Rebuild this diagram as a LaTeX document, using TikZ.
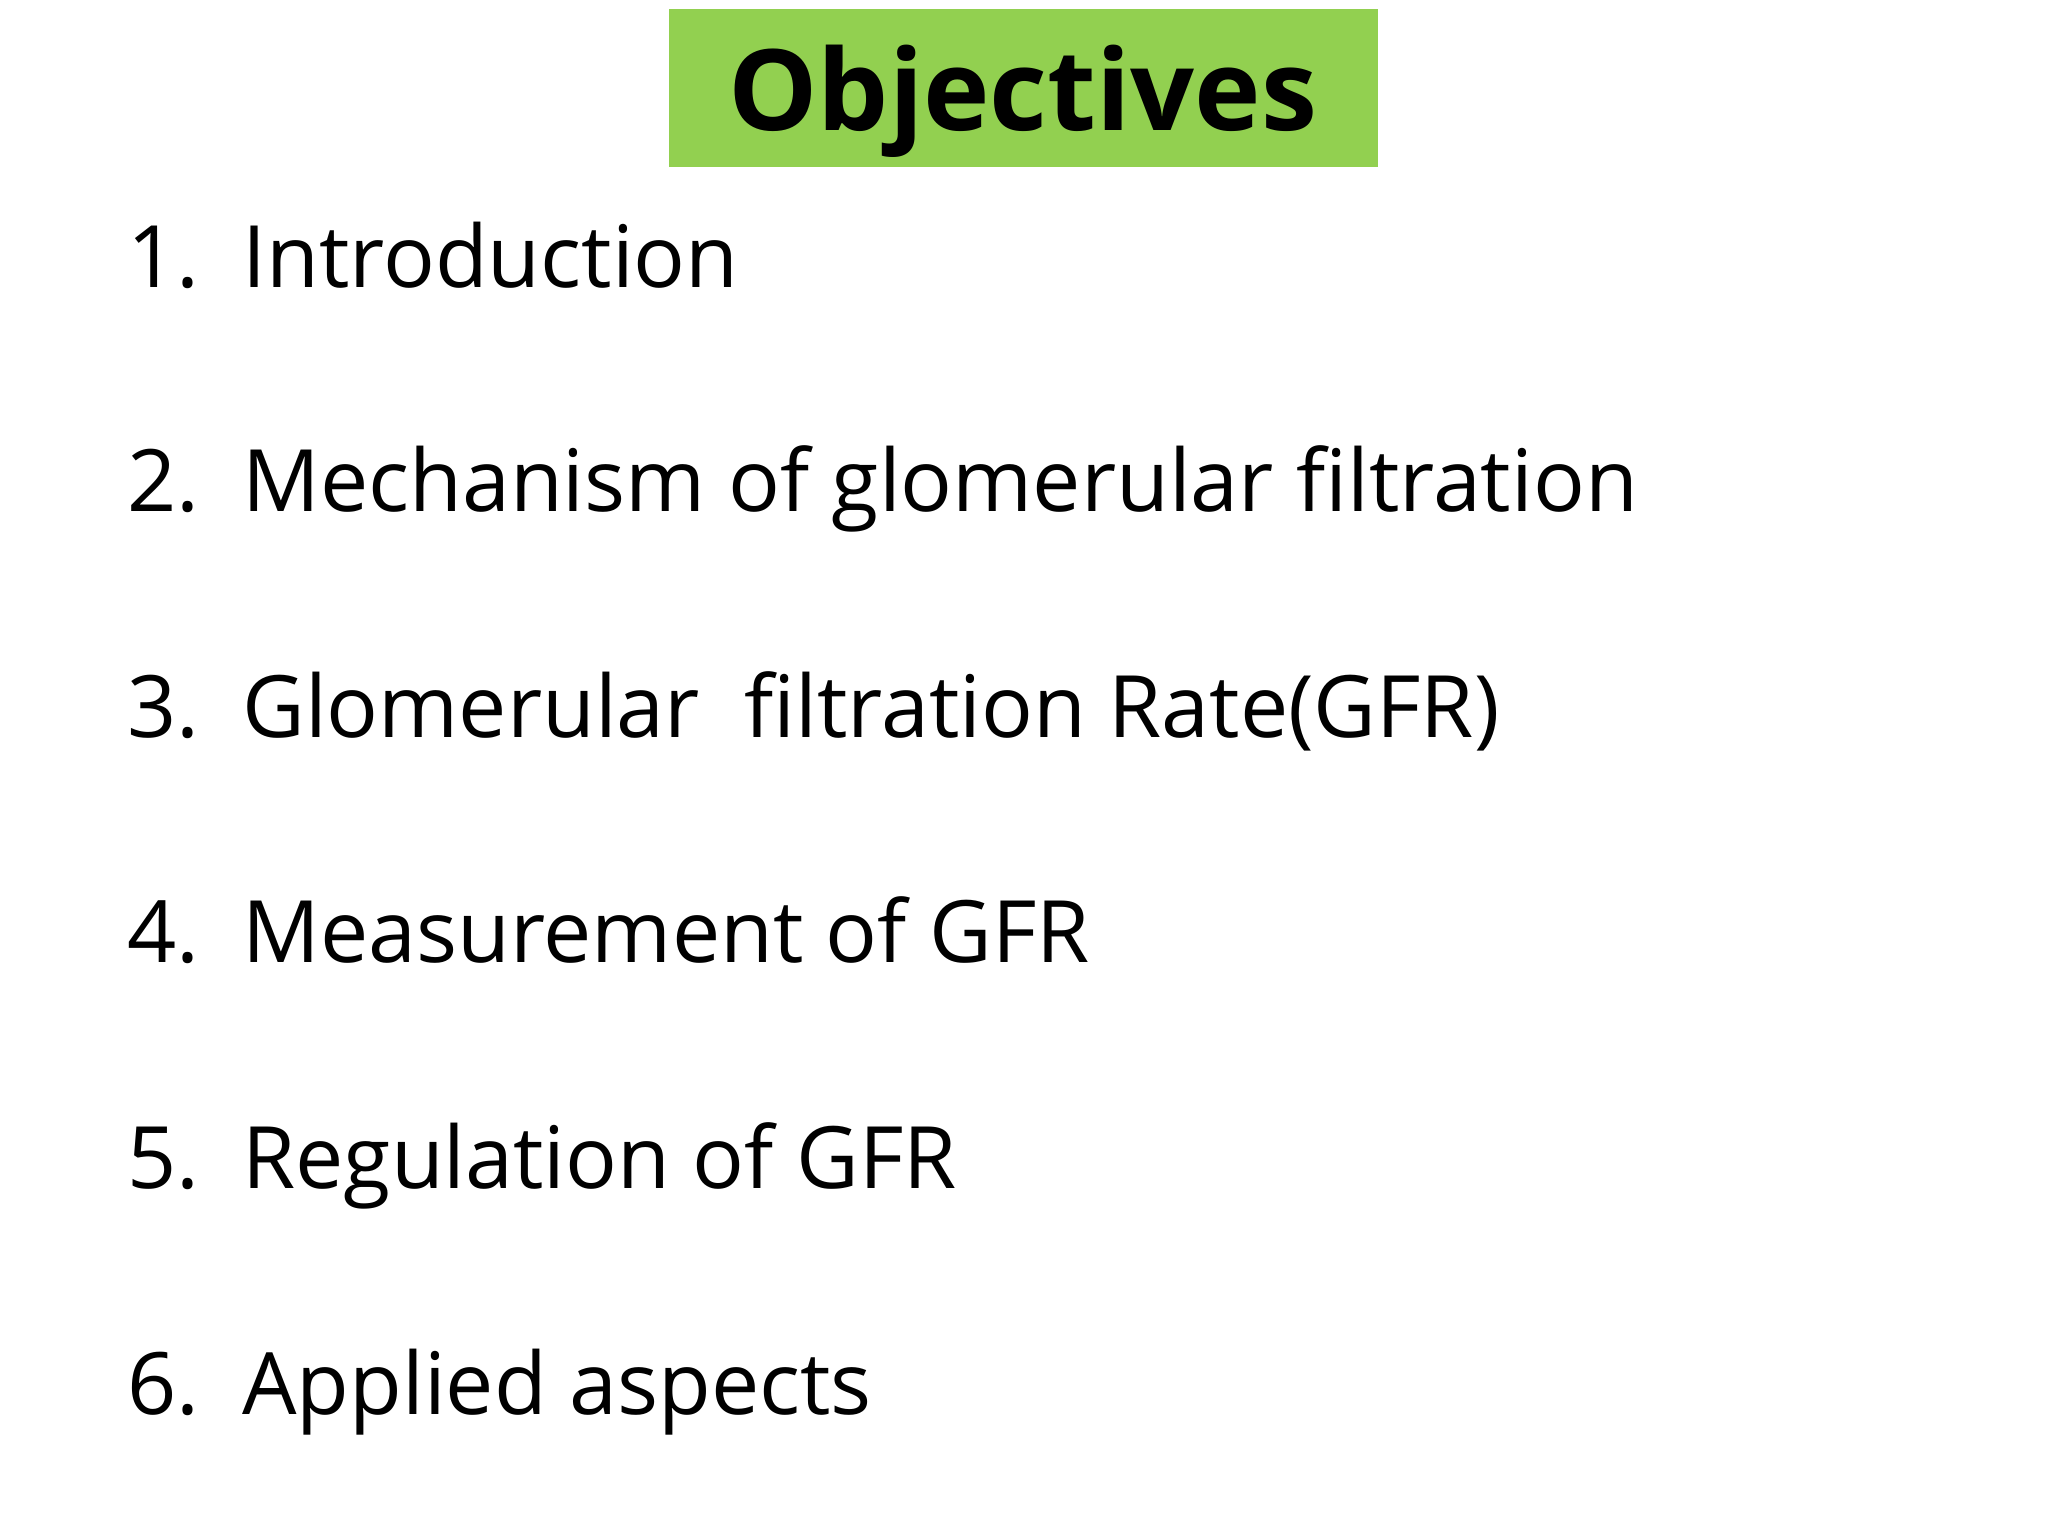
\documentclass[tikz,border=0pt]{standalone}
\usepackage{fontspec}
\setmainfont{Open Sans}
\definecolor{titlegreen}{HTML}{92D050}
\begin{document}
\begin{tikzpicture}[x=0.01306cm,y=-0.01306cm,
  item/.style={anchor=base west,inner sep=0pt,font=\fontsize{24.5}{28}\selectfont},
  num/.style={anchor=base west,inner sep=0pt,font=\fontsize{24.5}{28}\selectfont}]
\useasboundingbox (0,0) rectangle (1568,1176);
\fill[titlegreen] (512,7) rectangle (1055,128);
\node[font=\fontsize{32}{34}\selectfont\bfseries,inner sep=0pt,anchor=base] (title) at (783,100) {Objectives};
\foreach \n/\t/\y in {1/Introduction/220,2/Mechanism of glomerular filtration/392,3/{Glomerular\ \ filtration Rate(GFR)}/565,4/Measurement of GFR/737,5/Regulation of GFR/910,6/Applied aspects/1083}{
  \node[num] (n\n) at (97,\y) {\n.};
  \node[item] (t\n) at (185,\y) {\t};
}
\end{tikzpicture}
\end{document}
